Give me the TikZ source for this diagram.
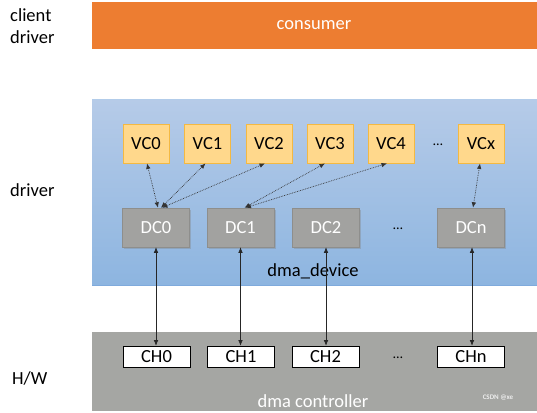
\documentclass[tikz,border=0pt]{standalone}
\usepackage{fontspec}
\setmainfont{Carlito}
\usetikzlibrary{arrows.meta,shadows}
\definecolor{orangebar}{HTML}{ED7D31}
\definecolor{bluetop}{HTML}{B6CBE8}
\definecolor{bluebot}{HTML}{8DB5E0}
\definecolor{blueedge}{HTML}{7FAADC}
\definecolor{grayhw}{HTML}{A5A6A3}
\definecolor{vcfill}{HTML}{FFD88C}
\definecolor{vcedge}{HTML}{F4B942}
\definecolor{dcfill}{HTML}{A2A2A0}
\definecolor{dcedge}{HTML}{8E8E8C}
\tikzset{
  lbl/.style={font=\fontsize{18.5}{22}\selectfont, inner sep=0pt},
  vcbox/.style={draw=vcedge, line width=0.8pt, fill=vcfill, minimum width=46pt, minimum height=39pt, inner sep=0pt, font=\fontsize{18.5}{20}\selectfont},
  dcbox/.style={draw=dcedge, line width=0.5pt, fill=dcfill, minimum width=67pt, minimum height=39pt, inner sep=0pt, text=white, font=\fontsize{18.5}{20}\selectfont, drop shadow={shadow xshift=1.5pt, shadow yshift=-1.5pt, opacity=0.35}},
  chbox/.style={draw=black, line width=0.6pt, fill=white, minimum width=67pt, minimum height=21pt, inner sep=0pt, font=\fontsize{18.5}{20}\selectfont},
  dotarrow/.style={densely dotted, line width=0.7pt, draw=black!80, {Latex[length=5.5pt,width=4.5pt]}-{Latex[length=5.5pt,width=4.5pt]}},
  solidarrow/.style={line width=0.6pt, draw=black!85, {Latex[length=5.5pt,width=4.5pt]}-{Latex[length=5.5pt,width=4.5pt]}},
  dots/.style={font=\fontsize{14}{16}\selectfont, inner sep=0pt}
}
\begin{document}
\begin{tikzpicture}[x=1pt,y=-1pt]
\useasboundingbox (0,0) rectangle (537,412);
\fill[white] (0,0) rectangle (537,412);
% layers
\fill[orangebar] (92,2) rectangle (537,49);
\node[lbl, text=white] (consumer) at (314,25) {consumer};
\shade[top color=bluetop, bottom color=bluebot] (92,99) rectangle (537,285);
\draw[blueedge, line width=0.6pt] (92,285) -- (537,285);
\draw[blueedge!60, line width=0.5pt] (92,99) -- (537,99);
\fill[grayhw] (92,332) rectangle (537,411);
% left labels
\node[lbl, anchor=west, align=left] (cd) at (10,26) {client\\driver};
\node[lbl, anchor=west] (drv) at (10,190) {driver};
\node[lbl, anchor=west] (hw) at (12,378) {H/W};
% VC row
\node[vcbox] (vc0) at (146,143.5) {VC0};
\node[vcbox] (vc1) at (207.5,143.5) {VC1};
\node[vcbox] (vc2) at (269,143.5) {VC2};
\node[vcbox] (vc3) at (330,143.5) {VC3};
\node[vcbox] (vc4) at (391,143.5) {VC4};
\node[dots] (vcd) at (438,145) {…};
\node[vcbox] (vcx) at (481,143.5) {VCx};
% DC row
\node[dcbox] (dc0) at (156,227.5) {DC0};
\node[dcbox] (dc1) at (240.5,227.5) {DC1};
\node[dcbox] (dc2) at (326,227.5) {DC2};
\node[dots] (dcd) at (398,229) {…};
\node[dcbox] (dcn) at (471,227.5) {DCn};
\node[lbl] (dmadev) at (313,271) {dma\_device};
% CH row
\node[chbox] (ch0) at (156.5,356.5) {CH0};
\node[chbox] (ch1) at (241,356.5) {CH1};
\node[chbox] (ch2) at (325.5,356.5) {CH2};
\node[dots] (chd) at (398,358) {…};
\node[chbox] (chn) at (471,356.5) {CHn};
\node[lbl, text=white] (dmactl) at (313,401) {dma controller};
\node[font=\fontsize{7}{8}\selectfont\bfseries, text=white!80!grayhw, inner sep=0pt] (wm) at (498,398) {CSDN @xe};
% dotted arrows
\draw[dotarrow] ([xshift=1pt]vc0.south) -- ([xshift=2pt]dc0.north);
\draw[dotarrow] ([xshift=-2pt]vc1.south) -- ([xshift=5pt]dc0.north);
\draw[dotarrow] ([xshift=-4pt]vc2.south) -- ([xshift=6pt]dc0.north);
\draw[dotarrow] ([xshift=-5pt]vc3.south) -- ([xshift=4pt]dc1.north);
\draw[dotarrow] ([xshift=-4pt]vc4.south) -- ([xshift=5pt]dc1.north);
\draw[dotarrow] ([xshift=-1pt]vcx.south) -- ([xshift=2pt]dcn.north);
% solid arrows
\draw[solidarrow] (dc0.south) -- (dc0.south |- ch0.north);
\draw[solidarrow] (dc1.south) -- (dc1.south |- ch1.north);
\draw[solidarrow] (dc2.south) -- (dc2.south |- ch2.north);
\draw[solidarrow] ([xshift=1pt]dcn.south) -- ([xshift=1pt]dcn.south |- chn.north);
\end{tikzpicture}
\end{document}
